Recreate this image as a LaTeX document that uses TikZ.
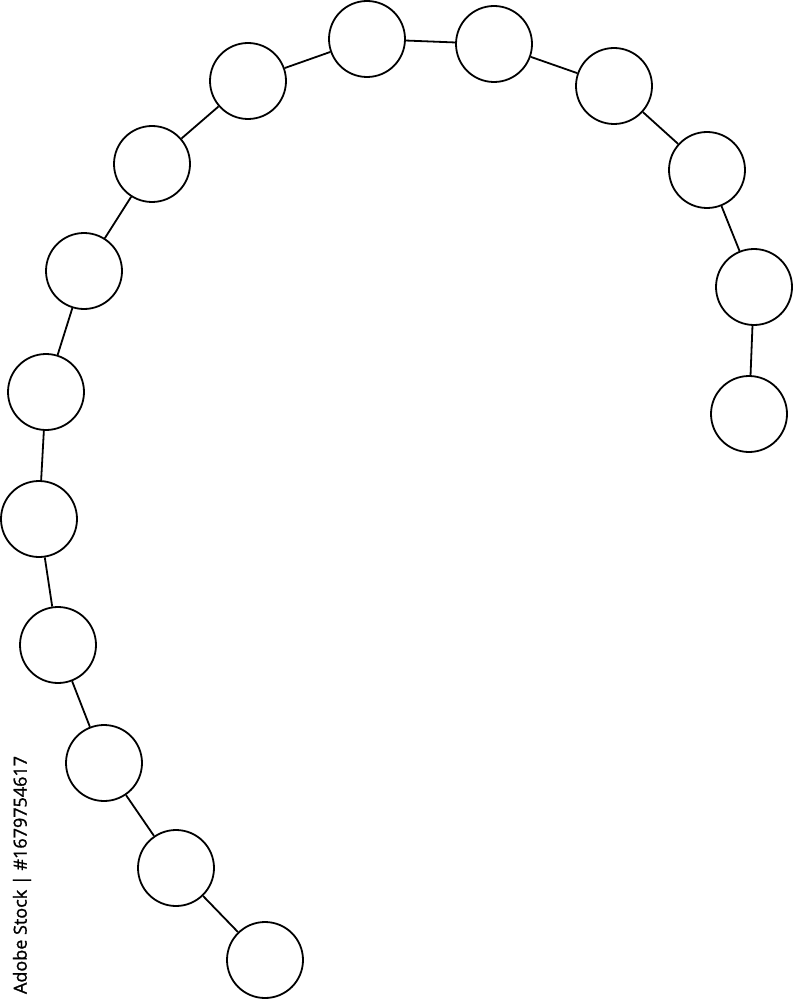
\documentclass[tikz,border=0pt]{standalone}
\usepackage{fontspec}
\newfontfamily\wmfont[FakeBold=1.2]{Open Sans}
\begin{document}
\begin{tikzpicture}[x=1pt,y=-1pt,
  bead/.style={circle,draw=black,line width=1.8pt,fill=white,minimum size=76pt,inner sep=0pt},
  link/.style={draw=black,line width=1.8pt}]
\useasboundingbox (0,0) rectangle (794,1000);
\node[bead] (b1) at (367,39) {};
\node[bead] (b2) at (494,44) {};
\node[bead] (b3) at (614,86) {};
\node[bead] (b4) at (707,170) {};
\node[bead] (b5) at (754,287) {};
\node[bead] (b6) at (749,414) {};
\node[bead] (b7) at (248,81) {};
\node[bead] (b8) at (152,164) {};
\node[bead] (b9) at (84,271) {};
\node[bead] (b10) at (46,392) {};
\node[bead] (b11) at (39,519) {};
\node[bead] (b12) at (58,645) {};
\node[bead] (b13) at (104,763) {};
\node[bead] (b14) at (176,868) {};
\node[bead] (b15) at (265,960) {};
\foreach \a/\b in {b15/b14,b14/b13,b13/b12,b12/b11,b11/b10,b10/b9,b9/b8,b8/b7,b7/b1,b1/b2,b2/b3,b3/b4,b4/b5,b5/b6}
  \draw[link] (\a) -- (\b);
\node[rotate=90,font=\wmfont\fontsize{18}{18}\selectfont,text=black,inner sep=0pt] (wm) at (22,875) {Adobe Stock | \#1679754617};
\end{tikzpicture}
\end{document}
